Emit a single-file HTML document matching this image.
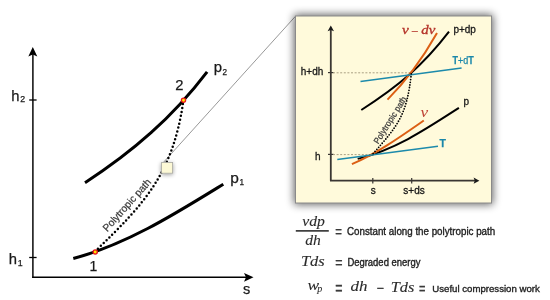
<!DOCTYPE html>
<html><head><meta charset="utf-8">
<style>
html,body{margin:0;padding:0;background:#fff;width:550px;height:300px;overflow:hidden}
svg{display:block}
.sans{font-family:"Liberation Sans",sans-serif}
.serif{font-family:"Liberation Serif",serif}
</style></head>
<body>
<svg width="550" height="300" viewBox="0 0 550 300">
<defs>
  <filter id="blur4" x="-20%" y="-20%" width="140%" height="140%"><feGaussianBlur stdDeviation="4"/></filter>
  <filter id="sh2" x="-100%" y="-100%" width="300%" height="300%">
    <feGaussianBlur in="SourceAlpha" stdDeviation="2.2"/>
    <feOffset dx="0.3" dy="0.6" result="b"/>
    <feComponentTransfer><feFuncA type="linear" slope="0.4"/></feComponentTransfer>
    <feMerge><feMergeNode/><feMergeNode in="SourceGraphic"/></feMerge>
  </filter>
</defs>

<!-- ===== Left diagram ===== -->
<g stroke="#000" fill="none">
  <line x1="32.9" y1="277.9" x2="32.9" y2="52" stroke-width="1.45"/>
  <line x1="32.2" y1="277.2" x2="248" y2="277.2" stroke-width="1.45"/>
  <line x1="29.2" y1="100" x2="36.6" y2="100" stroke-width="1.3"/>
  <line x1="29.2" y1="257.5" x2="36.6" y2="257.5" stroke-width="1.3"/>
</g>
<path d="M32.8,47 L37.3,56.5 L32.8,54.5 L28.3,56.5 Z" fill="#000"/>
<path d="M253.5,277.3 L244,272.9 L246,277.3 L244,281.7 Z" fill="#000"/>

<g class="sans" fill="#1a1a1a" stroke="#1a1a1a" stroke-width="0.25">
  <text x="11.3" y="100.6" font-size="14.8">h<tspan font-size="8.8" dx="0.8" dy="1.6">2</tspan></text>
  <text x="8.8" y="264.4" font-size="14.8">h<tspan font-size="8.8" dx="0.6" dy="1.7">1</tspan></text>
  <text x="243" y="294" font-size="14.5">s</text>
  <text x="175.3" y="90.3" font-size="14.8">2</text>
  <text x="89.5" y="271" font-size="14">1</text>
  <text x="213.8" y="72.3" font-size="14.5" textLength="8.3" lengthAdjust="spacingAndGlyphs">p</text><text x="222.4" y="74.8" font-size="8.2">2</text>
  <text x="230.2" y="183.4" font-size="14.5" textLength="8.6" lengthAdjust="spacingAndGlyphs">p</text><text x="239.4" y="185.1" font-size="8.2">1</text>
</g>

<!-- curves -->
<g stroke="#000" fill="none" stroke-width="3">
  <path d="M85.0,182.7 C133.0,151.4 172.4,117.5 207.1,71.8"/>
  <path d="M73.3,258.5 C126.9,244.4 176.5,213.0 223.3,184.2"/>
</g>
<!-- gray connector -->
<line x1="163.5" y1="162.3" x2="295.5" y2="16.2" stroke="#8c8c8c" stroke-width="0.9"/>
<!-- dotted polytropic path -->
<path d="M183.5,100 C173.3,172.2 146.0,202.5 95.2,251.3" fill="none" stroke="#000" stroke-width="2.5" stroke-dasharray="0 4" stroke-dashoffset="-4" stroke-linecap="round"/>
<text class="sans" font-size="10.4" textLength="66.6" lengthAdjust="spacingAndGlyphs" fill="#383838" stroke="#383838" stroke-width="0.2" transform="translate(107.3,232.2) rotate(-48)">Polytropic path</text>

<!-- small zoom square -->
<rect x="161.6" y="162.4" width="11" height="10.8" fill="#fdf9d6" stroke="#a8a8a0" stroke-width="0.8" filter="url(#sh2)"/>

<!-- points -->
<circle cx="95.2" cy="252" r="2.1" fill="#ffe600" stroke="#e8141a" stroke-width="1.3"/>
<circle cx="183.5" cy="100.2" r="2.1" fill="#ffe600" stroke="#e8141a" stroke-width="1.3"/>

<!-- ===== Inset ===== -->
<rect x="294" y="14.5" width="199" height="190" fill="#000" opacity="0.62" filter="url(#blur4)"/>
<rect x="295.5" y="16" width="196" height="187" fill="#fffadb" stroke="#8a8a8a" stroke-width="1"/>
<g stroke="#3a3632" fill="none">
  <line x1="330.8" y1="180.7" x2="330.8" y2="29" stroke-width="1.8"/>
  <line x1="330" y1="180.7" x2="475" y2="180.7" stroke-width="1.8"/>
  <line x1="328" y1="72.6" x2="333.6" y2="72.6" stroke-width="1.2"/>
  <line x1="328" y1="154.4" x2="333.6" y2="154.4" stroke-width="1.2"/>
  <line x1="372.8" y1="178" x2="372.8" y2="183.4" stroke-width="1.2"/>
  <line x1="411.7" y1="178" x2="411.7" y2="183.4" stroke-width="1.2"/>
</g>
<path d="M330.8,25.6 L334,31.2 L330.8,30 L327.6,31.2 Z" fill="#1a1a1a"/>
<path d="M479.4,180.7 L473.6,177.6 L474.8,180.7 L473.6,183.8 Z" fill="#1a1a1a"/>
<g stroke="#aaa084" stroke-width="1" stroke-dasharray="2 1.6">
  <line x1="333" y1="72.8" x2="411" y2="72.8"/>
  <line x1="333" y1="154.6" x2="372" y2="154.6"/>
</g>
<!-- inset lines -->
<g fill="none" stroke-width="2">
  <path d="M361.3,110.0 C398.2,86.0 422.2,66.6 449.0,31.7" stroke="#000"/>
  <path d="M357.7,158.9 C396.1,149.3 426.1,129.1 458.9,107.9" stroke="#000"/>
  <path d="M387.5,99.6 C408.0,79.3 422.6,58.5 437.0,33.1" stroke="#dc5f14"/>
  <path d="M351.9,164.1 C376.9,153.6 401.5,136.0 423.8,120.5" stroke="#dc5f14"/>
  <line x1="360.5" y1="81.4" x2="461.6" y2="68" stroke="#1c8aab" stroke-width="1.5"/>
  <line x1="337.3" y1="159.6" x2="438" y2="146.2" stroke="#1c8aab" stroke-width="1.5"/>
</g>
<path d="M411.3,73.8 C406.8,115.3 398.0,125.6 372.4,154.4" fill="none" stroke="#000" stroke-width="1.8" stroke-dasharray="0 2.75" stroke-linecap="round"/>
<text class="sans" font-size="8.8" textLength="54" lengthAdjust="spacingAndGlyphs" fill="#3c3c3c" stroke="#3c3c3c" stroke-width="0.25" transform="translate(378.3,144.6) rotate(-58)">Polytropic path</text>

<g class="sans" fill="#1a1a1a" stroke="#1a1a1a" stroke-width="0.3" font-size="10">
  <text x="300.8" y="75">h+dh</text>
  <text x="315" y="159.6">h</text>
  <text x="370.8" y="193.5">s</text>
  <text x="403.3" y="193.5">s+ds</text>
  <text x="453.4" y="33.4">p+dp</text>
  <text x="463.6" y="105.2">p</text>
</g>
<g class="sans" fill="#1a87aa" stroke="#1a87aa" stroke-width="0.25" font-size="10">
  <text x="452.6" y="63.9" textLength="21.2" lengthAdjust="spacingAndGlyphs"><tspan font-weight="bold">T</tspan>+d<tspan font-weight="bold">T</tspan></text>
  <text x="439.4" y="147" font-weight="bold" font-size="10.5">T</text>
</g>
<g class="serif" fill="#b5352b" stroke="#b5352b" stroke-width="0.3" font-style="italic" font-size="11.5">
  <text x="402" y="34.3" textLength="6.8" lengthAdjust="spacingAndGlyphs">v</text>
  <text x="421.3" y="34.3" textLength="14" lengthAdjust="spacingAndGlyphs">dv</text>
  <text x="420.6" y="116.8" font-size="14" textLength="7.6" lengthAdjust="spacingAndGlyphs" stroke-width="0.05" fill="#c0473a">v</text>
</g>
<text class="sans" x="411.3" y="35" font-size="11.5" textLength="7.3" lengthAdjust="spacingAndGlyphs" fill="#b5352b" stroke="#b5352b" stroke-width="0.15">−</text>

<!-- ===== Equations ===== -->
<g class="serif" fill="#2a2a2a" font-style="italic" font-size="14" stroke="#2a2a2a" stroke-width="0.1">
  <text x="302.3" y="225.8" textLength="22.6" lengthAdjust="spacingAndGlyphs">vdp</text>
  <text x="305.3" y="245" textLength="15.6" lengthAdjust="spacingAndGlyphs">dh</text>
  <text x="300.9" y="265.9" textLength="23.8" lengthAdjust="spacingAndGlyphs">Tds</text>
  <text x="307.4" y="289.9" textLength="11.6" lengthAdjust="spacingAndGlyphs">w</text>
  <text x="317.2" y="291.9" font-size="10">p</text>
  <text x="350.6" y="290.6" textLength="17" lengthAdjust="spacingAndGlyphs">dh</text>
  <text x="390.7" y="291.8" textLength="23.6" lengthAdjust="spacingAndGlyphs">Tds</text>
</g>
<line x1="295.8" y1="230.9" x2="328.8" y2="230.9" stroke="#404040" stroke-width="1.8"/>
<g class="sans" fill="#3a3a3a" stroke="#3a3a3a" stroke-width="0.3" lengthAdjust="spacingAndGlyphs">
  <text x="335.3" y="236.6" font-size="15.2" textLength="6.7" lengthAdjust="spacingAndGlyphs">=</text>
  <text x="335.3" y="267.6" font-size="15.2" textLength="7.3" lengthAdjust="spacingAndGlyphs">=</text>
  <text x="335.25" y="294.1" font-size="18.4" textLength="7.3" lengthAdjust="spacingAndGlyphs">=</text>
  <text x="376.4" y="293.3" font-size="14" textLength="7.4" lengthAdjust="spacingAndGlyphs">−</text>
  <text x="419" y="294.2" font-size="15.6" textLength="6.45" lengthAdjust="spacingAndGlyphs">=</text>
</g>
<g class="sans" fill="#222" stroke="#222" stroke-width="0.35">
  <text x="347" y="234.9" font-size="10.3" textLength="148.2" lengthAdjust="spacingAndGlyphs">Constant along the polytropic path</text>
  <text x="347.4" y="265.7" font-size="10" textLength="73" lengthAdjust="spacingAndGlyphs">Degraded energy</text>
  <text x="432.3" y="291.6" font-size="9.8" textLength="107.5" lengthAdjust="spacingAndGlyphs">Useful compression work</text>
</g>
</svg>
</body></html>
